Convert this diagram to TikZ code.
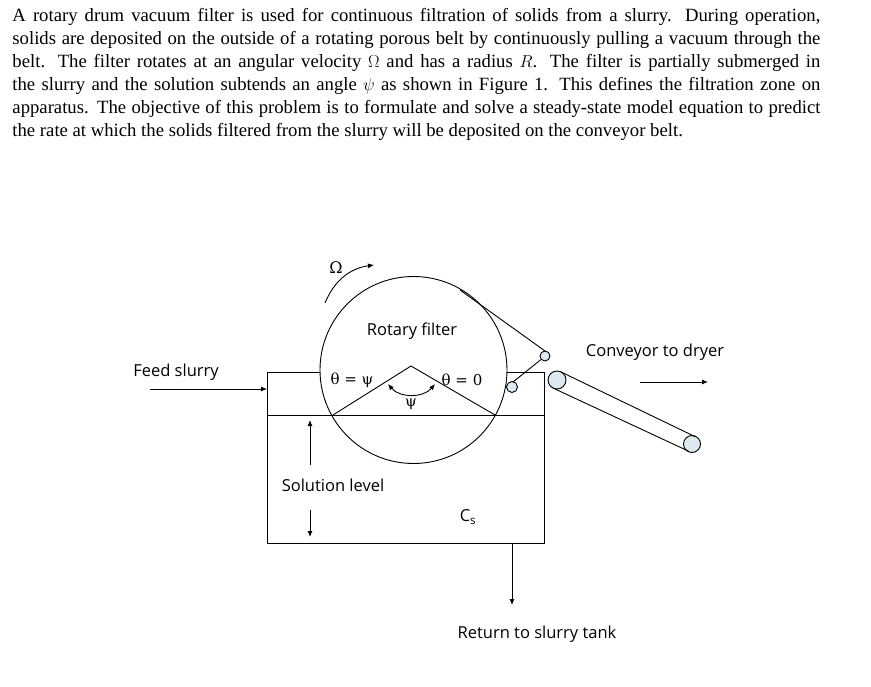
\documentclass[tikz,border=0pt]{standalone}
\usepackage{fontspec}
\usetikzlibrary{arrows.meta}
\setmainfont{Liberation Serif}
\newfontfamily\dfont{Open Sans}
\newfontfamily\gfont{DejaVu Serif}
\begin{document}
\begin{tikzpicture}[x=1pt,y=-1pt,line width=0.9pt,
  lbl/.style={font=\dfont\fontsize{16.5}{18}\selectfont,inner sep=0pt},
  roll/.style={draw,fill=cyan!10!teal!15,circle,inner sep=0pt},
  arr/.style={-{Latex[length=6pt,width=5pt]}}]
\useasboundingbox (0,0) rectangle (871,687);
\node[anchor=north west,inner sep=0pt,text width=808pt,align=justify,font=\fontsize{18.7}{23}\selectfont] (para) at (12,8) {A rotary drum vacuum filter is used for continuous filtration of solids from a slurry. During operation,\linebreak solids are deposited on the outside of a rotating porous belt by continuously pulling a vacuum through the\linebreak belt. The filter rotates at an angular velocity $\Omega$ and has a radius $R$. The filter is partially submerged in\linebreak the slurry and the solution subtends an angle $\psi$ as shown in Figure 1. This defines the filtration zone on\linebreak apparatus. The objective of this problem is to formulate and solve a steady-state model equation to predict\linebreak the rate at which the solids filtered from the slurry will be deposited on the conveyor belt.\par};
% tank
\coordinate (tl) at (267,372);
\coordinate (tr) at (544,372);
\coordinate (bl) at (267,543);
\coordinate (br) at (544,543);
\draw (tl) -- (bl) -- (br) -- (tr) -- (tl);
% drum
\node[draw,circle,minimum size=187pt,inner sep=0pt,fill=white] (drum) at (413.5,370) {};
\draw (267,415) -- (544,415);
\node[lbl] (rf) at (412,331) {Rotary filter};
% angle lines
\coordinate (apex) at (411,366);
\draw (333,415) -- (apex) -- (495,415);
\draw[{Latex[length=6pt,width=5pt]}-{Latex[length=6pt,width=5pt]}] (388,384) to[bend right=50] (435,384);
\node[lbl,font=\gfont\fontsize{15}{17}\selectfont] (t1) at (352,380) {θ = ψ};
\node[lbl,font=\gfont\fontsize{15}{17}\selectfont] (t0) at (462,380) {θ = 0};
\node[lbl,font=\gfont\fontsize{15}{17}\selectfont] (ps) at (411,404) {ψ};
% rollers & belt
\node[roll,minimum size=10pt] (r1) at (545,356) {};
\node[roll,minimum size=11pt] (r2) at (512,387) {};
\draw (460,290) -- (545,351);
\draw (541,359.5) -- (513,382);
\node[roll,minimum size=18pt] (r3) at (557,380) {};
\node[roll,minimum size=17pt] (r4) at (692,444) {};
\draw (560.9,371.9) -- (695.4,436.8);
\draw (553.1,388.1) -- (688.6,451.2);
% Omega
\draw[arr] (325,303) to[bend left=30] (374,265);
\node[lbl,font=\gfont\fontsize{16}{17}\selectfont] (om) at (336,268) {Ω};
% labels and arrows
\node[lbl] (conv) at (655,352) {Conveyor to dryer};
\coordinate (ca) at (640,382);
\coordinate (cb) at (708,382);
\draw[arr] (ca) -- (cb);
\node[lbl] (feed) at (176,372) {Feed slurry};
\coordinate (fa) at (150,389);
\draw[arr] (fa) -- (tl |- fa);
\node[lbl] (sol) at (333,485) {Solution level};
\coordinate (s1) at (310,465); \coordinate (s2) at (310,420);
\coordinate (s3) at (310,510); \coordinate (s4) at (310,537);
\draw[arr] (s1) -- (s2);
\draw[arr] (s3) -- (s4);
\node[lbl] (cs) at (468,517) {C\textsubscript{s}};
\coordinate (o1) at (512,543); \coordinate (o2) at (512,605);
\draw[arr] (o1) -- (o2);
\node[lbl] (ret) at (537,634) {Return to slurry tank};
\end{tikzpicture}
\end{document}
